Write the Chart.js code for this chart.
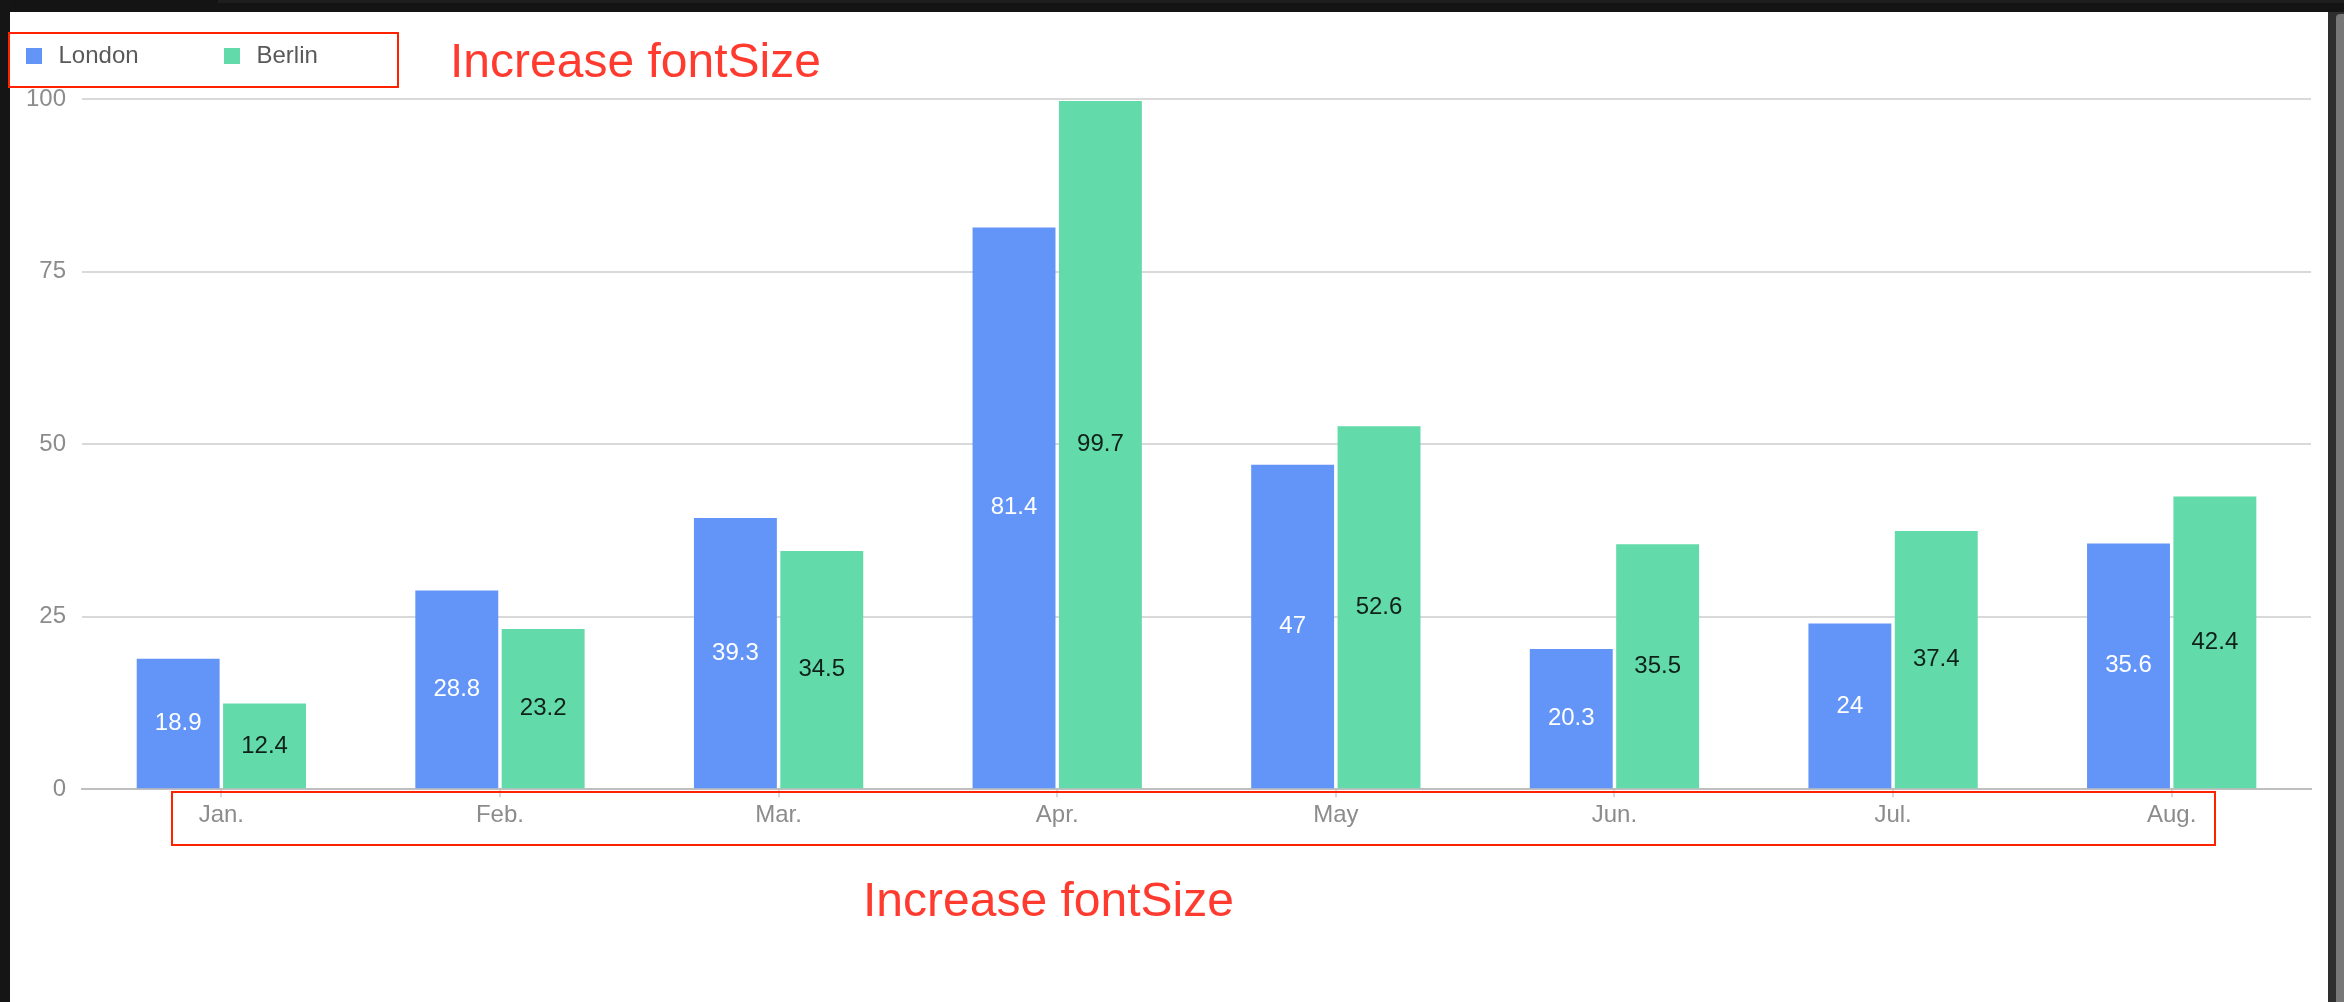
<!DOCTYPE html>
<html>
<head>
<meta charset="utf-8">
<script src="https://cdn.jsdelivr.net/npm/chart.js@4.4.1/dist/chart.umd.min.js"></script>
<style>
  html, body { margin: 0; padding: 0; background: #ffffff; }
  body { width: 2344px; height: 1002px; position: relative; overflow: hidden; font-family: "Liberation Sans", Arial, sans-serif; }
  #wrap { position: absolute; left: 0; top: 0; width: 2344px; height: 1002px; }
  .band { position: absolute; z-index: 5; }
  .redbox { position: absolute; box-sizing: border-box; border: 2px solid #ff2200; z-index: 6; }
  .note { position: absolute; z-index: 6; color: #ff3b30; font-size: 48px; line-height: 48px; white-space: nowrap; font-family: "Liberation Sans", Arial, sans-serif; }
  #legend { position: absolute; left: 0; top: 0; z-index: 4; }
  .lg-box { position: absolute; width: 16px; height: 16px; top: 48px; }
  .lg-text { position: absolute; top: 43px; font-size: 24px; line-height: 24px; color: #595959; white-space: nowrap; }
</style>
</head>
<body>
<div id="wrap"><canvas id="c"></canvas></div>
<div id="legend"></div>

<div class="band" style="left:0;top:0;width:2344px;height:12px;background:#141414;"></div>
<div class="band" style="left:218px;top:0;width:2126px;height:3px;background:#1e1e1e;"></div>
<div class="band" style="left:0;top:0;width:10px;height:1002px;background:#151515;"></div>
<div class="band" style="left:2328px;top:12px;width:16px;height:990px;background:#2e2e2e;"></div>
<div class="band" style="left:2336px;top:14px;width:8px;height:988px;background:#777777;border-top-left-radius:4px;"></div>

<div class="redbox" style="left:8px;top:32px;width:391px;height:56px;"></div>
<div class="note" style="left:450px;top:37px;">Increase fontSize</div>
<div class="redbox" style="left:171px;top:791px;width:2045px;height:55px;"></div>
<div class="note" style="left:863px;top:876px;">Increase fontSize</div>

<script>
// ---- data ----
const categories = ['Jan.', 'Feb.', 'Mar.', 'Apr.', 'May', 'Jun.', 'Jul.', 'Aug.'];
const seriesNames = ['London', 'Berlin'];
const londonValues = [18.9, 28.8, 39.3, 81.4, 47, 20.3, 24, 35.6];
const berlinValues = [12.4, 23.2, 34.5, 99.7, 52.6, 35.5, 37.4, 42.4];
const yTicks = [0, 25, 50, 75, 100];

const seriesColors = ['rgb(99,149,249)', 'rgb(98,218,170)'];
const labelColors = ['#ffffff', 'rgba(0,0,0,0.85)'];
const FONT = '"Liberation Sans", Arial, sans-serif';

const valueLabels = {
  id: 'valueLabels',
  afterDatasetsDraw(chart) {
    const ctx = chart.ctx;
    ctx.save();
    ctx.font = '24px ' + FONT;
    ctx.textAlign = 'center';
    ctx.textBaseline = 'middle';
    chart.data.datasets.forEach((ds, di) => {
      const meta = chart.getDatasetMeta(di);
      ctx.fillStyle = labelColors[di];
      meta.data.forEach((el, i) => {
        const y = (el.y + el.base) / 2;
        ctx.fillText(String(ds.data[i]), el.x, y);
      });
    });
    ctx.restore();
  }
};

const chart = new Chart(document.getElementById('c'), {
  type: 'bar',
  data: {
    labels: categories,
    datasets: [
      { label: seriesNames[0], data: londonValues, backgroundColor: seriesColors[0] },
      { label: seriesNames[1], data: berlinValues, backgroundColor: seriesColors[1] }
    ]
  },
  options: {
    responsive: true,
    maintainAspectRatio: false,
    animation: false,
    devicePixelRatio: 1,
    categoryPercentage: 0.62,
    barPercentage: 0.96,
    layout: { padding: { left: 10, right: 33, top: 99, bottom: 168 } },
    plugins: {
      legend: { display: false },
      tooltip: { enabled: false }
    },
    scales: {
      x: {
        grid: { drawOnChartArea: false, drawTicks: true, tickLength: 8, offset: false, color: '#d9d9d9', lineWidth: 2 },
        border: { display: true, color: '#bfbfbf', width: 2 },
        ticks: { font: { size: 24, family: FONT }, color: '#8c8c8c', padding: 4 }
      },
      y: {
        min: 0,
        max: 100,
        afterBuildTicks(axis) { axis.ticks = yTicks.map(v => ({ value: v })); },
        grid: { drawTicks: false, color: '#d9d9d9', lineWidth: 2 },
        border: { display: false },
        ticks: { font: { size: 24, family: FONT }, color: '#8c8c8c', padding: 16 }
      }
    }
  },
  plugins: [valueLabels]
});

// legend built from the chart's datasets
const legend = document.getElementById('legend');
const legendX = [26, 224];
chart.data.datasets.forEach((ds, i) => {
  const box = document.createElement('div');
  box.className = 'lg-box';
  box.style.left = legendX[i] + 'px';
  box.style.background = ds.backgroundColor;
  legend.appendChild(box);
  const t = document.createElement('div');
  t.className = 'lg-text';
  t.style.left = (legendX[i] + 32.5) + 'px';
  t.textContent = ds.label;
  legend.appendChild(t);
});
</script>
</body>
</html>
